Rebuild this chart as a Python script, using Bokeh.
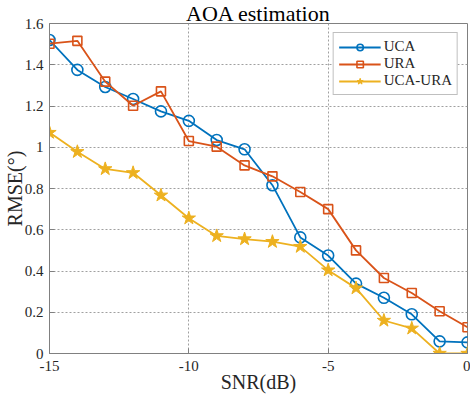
from bokeh.plotting import figure
from bokeh.models import Range1d, FixedTicker
from bokeh.embed import file_html
from bokeh.resources import INLINE

snr = [-15, -14, -13, -12, -11, -10, -9, -8, -7, -6, -5, -4, -3, -2, -1, 0]
uca = [1.52, 1.375, 1.292, 1.234, 1.174, 1.128, 1.035, 0.99, 0.816, 0.563, 0.475, 0.339, 0.27, 0.19, 0.059, 0.054]
ura = [1.502, 1.516, 1.318, 1.201, 1.271, 1.03, 1.003, 0.912, 0.859, 0.783, 0.70, 0.50, 0.366, 0.293, 0.205, 0.127]
uca_ura = [1.071, 0.978, 0.895, 0.876, 0.767, 0.656, 0.57, 0.555, 0.542, 0.518, 0.404, 0.317, 0.16, 0.122, 0.0, 0.0]

x_ticks = [-15, -10, -5, 0]
x_tick_labels = ["-15", "-10", "-5", "0"]
y_ticks = [0, 0.2, 0.4, 0.6, 0.8, 1.0, 1.2, 1.4, 1.6]
y_tick_labels = ["0", "0.2", "0.4", "0.6", "0.8", "1", "1.2", "1.4", "1.6"]

title_text = "AOA estimation"
x_label = "SNR(dB)"
y_label = "RMSE(°)"

FONT = "Liberation Serif"
AX = "#808080"
TXT = "#262626"

p = figure(width=470, height=395, x_range=Range1d(-15, 0), y_range=Range1d(0, 1.6),
           output_backend="svg", toolbar_location=None, title=title_text,
           min_border_left=46, min_border_right=3, min_border_top=0, min_border_bottom=42)
p.background_fill_color = "white"
p.border_fill_color = "white"
p.outline_line_color = AX
p.outline_line_width = 1

p.title.align = "center"
p.title.text_font = FONT
p.title.text_font_size = "22px"
p.title.text_font_style = "normal"
p.title.text_color = "black"
p.title.standoff = -4
p.title.offset = 0

p.xaxis.ticker = FixedTicker(ticks=x_ticks)
p.yaxis.ticker = FixedTicker(ticks=y_ticks)
p.xaxis.major_label_overrides = {t: l for t, l in zip(x_ticks, x_tick_labels)}
p.yaxis.major_label_overrides = {t: l for t, l in zip(y_ticks, y_tick_labels)}
for ax in (p.xaxis, p.yaxis):
    ax.axis_line_color = AX
    ax.major_tick_line_color = AX
    ax.major_tick_in = 5
    ax.major_tick_out = 0
    ax.minor_tick_line_color = None
    ax.major_label_text_font = FONT
    ax.major_label_text_font_size = "15px"
    ax.major_label_text_color = TXT
    ax.axis_label_text_font = FONT
    ax.axis_label_text_font_size = "20px"
    ax.axis_label_text_font_style = "normal"
    ax.axis_label_text_color = TXT
p.xaxis.axis_label = x_label
p.yaxis.axis_label = y_label
p.yaxis.major_label_standoff = 6
p.yaxis.axis_label_standoff = -4
p.xaxis.major_label_standoff = 7
p.xaxis.axis_label_standoff = -3

for g in (p.xgrid, p.ygrid):
    g.grid_line_color = "#a0a0a0"
    g.grid_line_dash = "2 2"
    g.grid_line_width = 1

c1, c2, c3 = "#0072BD", "#D95319", "#EDB120"
lw = 1.8
p.line(snr, uca, color=c1, line_width=lw, legend_label="UCA")
p.scatter(snr, uca, marker="circle", size=11, line_color=c1, fill_color=None, line_width=1.6, legend_label="UCA")
p.line(snr, ura, color=c2, line_width=lw, legend_label="URA")
p.scatter(snr, ura, marker="square", size=9, line_color=c2, fill_color=None, line_width=1.6, legend_label="URA")
p.line(snr, uca_ura, color=c3, line_width=lw, legend_label="UCA-URA")
p.scatter(snr, uca_ura, marker="star", size=14, line_color=c3, fill_color=c3, line_width=1, legend_label="UCA-URA")

lg = p.legend[0]
lg.location = "top_right"
lg.margin = 9
lg.padding = 5
lg.spacing = 0
lg.glyph_width = 42
lg.glyph_height = 16
lg.label_height = 16
lg.label_standoff = 3
lg.label_text_font = FONT
lg.label_text_font_size = "15px"
lg.label_text_color = TXT
lg.border_line_color = AX
lg.border_line_width = 1
lg.background_fill_alpha = 1

open("out.html", "w").write(file_html(p, INLINE))
